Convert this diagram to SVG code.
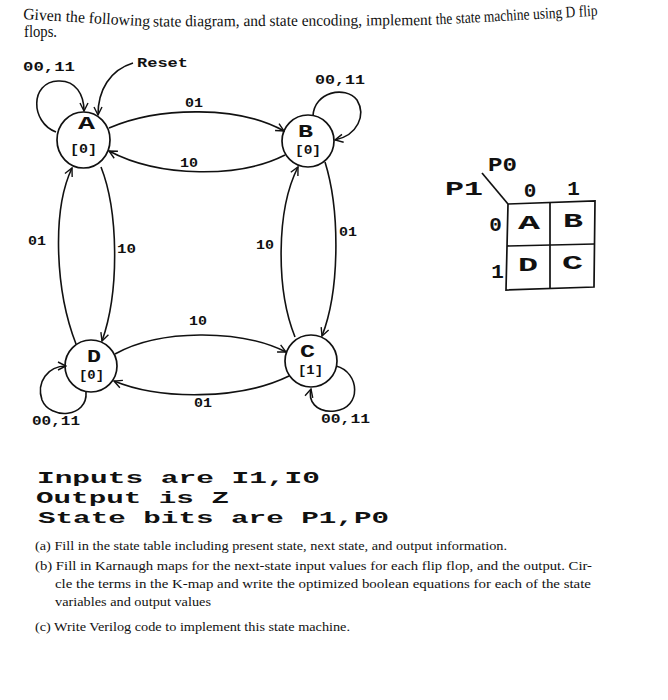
<svg xmlns="http://www.w3.org/2000/svg" width="668" height="700" viewBox="0 0 668 700">
<style>
.bg{fill:#fff}
.st{fill:none;stroke:#111;stroke-width:1.7}
.e{fill:none;stroke:#111;stroke-width:1.6}
.mono{font-family:"Liberation Mono","DejaVu Sans Mono",monospace;font-weight:bold;fill:#111}
.lbl{font-size:12px}
.node{font-size:18px}
.out{font-size:13px}
.big{font-size:17px}
.km{font-size:21px}
.serif{font-family:"Liberation Serif","Times New Roman",serif;fill:#111}
.hd{font-size:16px}
.q{font-size:13.5px}
</style>
<defs>
<marker id="ar" viewBox="0 0 10 10" refX="9" refY="5" markerWidth="10" markerHeight="10" markerUnits="userSpaceOnUse" orient="auto">
<path d="M1,1 L9,5 L1,9" fill="none" stroke="#111" stroke-width="1.4"/>
</marker>
</defs>
<rect class="bg" x="0" y="0" width="668" height="700"/>

<g id="header">
<text class="serif hd" transform="translate(23,19) rotate(3.4)" textLength="127" lengthAdjust="spacingAndGlyphs">Given the following</text>
<text class="serif hd" transform="translate(153,26.5) rotate(-0.3)" textLength="279" lengthAdjust="spacingAndGlyphs">state diagram, and state encoding, implement</text>
<text class="serif hd" transform="translate(436,24.5) rotate(-3.1)" textLength="162" lengthAdjust="spacingAndGlyphs">the state machine using D flip</text>
<text class="serif hd" x="24" y="37" textLength="33" lengthAdjust="spacingAndGlyphs">flops.</text>
</g>

<g id="connectors">
<path class="e" d="M133,63 C110,70 98,90 98,115" marker-end="url(#ar)"/>
<path class="e" d="M56,132 C30,122 30,82 58,81 C76,80 84,95 84,111" marker-end="url(#ar)"/>
<path class="e" d="M109,128 C160,106 240,106 284,131" marker-end="url(#ar)"/>
<path class="e" d="M285,155 C240,178 160,178 109,151" marker-end="url(#ar)"/>
<path class="e" d="M76,344 C55,290 52,210 72,168" marker-end="url(#ar)"/>
<path class="e" d="M101,167 C118,210 120,290 102,341" marker-end="url(#ar)"/>
<path class="e" d="M325,162 C340,210 340,290 322,336" marker-end="url(#ar)"/>
<path class="e" d="M295,337 C276,290 276,210 298,167" marker-end="url(#ar)"/>
<path class="e" d="M115,354 C160,329 240,329 286,352" marker-end="url(#ar)"/>
<path class="e" d="M289,376 C240,400 160,400 114,381" marker-end="url(#ar)"/>
<path class="e" d="M313,116 C314,92 345,85 357,100 C366,115 358,135 335,140" marker-end="url(#ar)"/>
<path class="e" d="M86,392 C88,418 50,420 42,400 C36,382 48,366 66,366" marker-end="url(#ar)"/>
<path class="e" d="M336,366 C360,372 362,408 335,411 C315,413 308,400 311,389" marker-end="url(#ar)"/>
</g>

<g id="edge-labels">
<text class="mono lbl" x="23" y="71" textLength="52" lengthAdjust="spacingAndGlyphs">00,11</text>
<text class="mono lbl" x="137" y="67" textLength="51" lengthAdjust="spacingAndGlyphs">Reset</text>
<text class="mono lbl" x="185" y="107" textLength="18" lengthAdjust="spacingAndGlyphs">01</text>
<text class="mono lbl" x="180" y="167" textLength="18" lengthAdjust="spacingAndGlyphs">10</text>
<text class="mono lbl" x="28" y="245" textLength="18" lengthAdjust="spacingAndGlyphs">01</text>
<text class="mono lbl" x="117" y="253" textLength="19" lengthAdjust="spacingAndGlyphs">10</text>
<text class="mono lbl" x="256" y="249" textLength="18" lengthAdjust="spacingAndGlyphs">10</text>
<text class="mono lbl" x="339" y="236" textLength="18" lengthAdjust="spacingAndGlyphs">01</text>
<text class="mono lbl" x="189" y="325" textLength="18" lengthAdjust="spacingAndGlyphs">10</text>
<text class="mono lbl" x="194" y="407" textLength="18" lengthAdjust="spacingAndGlyphs">01</text>
<text class="mono lbl" x="315" y="84" textLength="50" lengthAdjust="spacingAndGlyphs">00,11</text>
<text class="mono lbl" x="32" y="425" textLength="48" lengthAdjust="spacingAndGlyphs">00,11</text>
<text class="mono lbl" x="321" y="423" textLength="49" lengthAdjust="spacingAndGlyphs">00,11</text>
</g>

<g id="node-A">
<ellipse class="st" cx="83.5" cy="140" rx="26.5" ry="28"/>
<text class="mono node" x="78" y="129" textLength="17" lengthAdjust="spacingAndGlyphs">A</text>
<text class="mono out" x="70" y="153" textLength="27" lengthAdjust="spacingAndGlyphs">[0]</text>
</g>
<g id="node-B">
<circle class="st" cx="308" cy="141" r="26"/>
<text class="mono node" x="298" y="137" textLength="15" lengthAdjust="spacingAndGlyphs">B</text>
<text class="mono out" x="295" y="154" textLength="26" lengthAdjust="spacingAndGlyphs">[0]</text>
</g>
<g id="node-D">
<circle class="st" cx="91" cy="366" r="26"/>
<text class="mono node" x="87" y="362" textLength="14" lengthAdjust="spacingAndGlyphs">D</text>
<text class="mono out" x="79" y="379" textLength="25" lengthAdjust="spacingAndGlyphs">[0]</text>
</g>
<g id="node-C">
<circle class="st" cx="311" cy="361" r="26"/>
<text class="mono node" x="300" y="357" textLength="15" lengthAdjust="spacingAndGlyphs">C</text>
<text class="mono out" x="298" y="374" textLength="25" lengthAdjust="spacingAndGlyphs">[1]</text>
</g>

<g id="kmap">
<line class="st" x1="482" y1="173" x2="508" y2="204"/>
<polygon class="st" points="508,204 595,201 594,287 506,290"/>
<line class="st" x1="507" y1="246" x2="594.5" y2="244"/>
<line class="st" x1="550" y1="202.5" x2="550" y2="288.5"/>
<text class="mono km" x="488" y="171" textLength="29" lengthAdjust="spacingAndGlyphs">P0</text>
<text class="mono km" x="445" y="195" textLength="38" lengthAdjust="spacingAndGlyphs">P1</text>
<text class="mono km" x="530" y="197" text-anchor="middle">0</text>
<text class="mono km" x="573.5" y="195" text-anchor="middle">1</text>
<text class="mono km" x="495.5" y="231" text-anchor="middle">0</text>
<text class="mono km" x="497.5" y="278" text-anchor="middle">1</text>
<text class="mono km" x="518" y="229" textLength="22" lengthAdjust="spacingAndGlyphs">A</text>
<text class="mono km" x="563" y="227" textLength="20" lengthAdjust="spacingAndGlyphs">B</text>
<text class="mono km" x="518" y="271" textLength="20" lengthAdjust="spacingAndGlyphs">D</text>
<text class="mono km" x="562" y="269" textLength="21" lengthAdjust="spacingAndGlyphs">C</text>
</g>

<g id="info">
<text class="mono big" x="37" y="483" textLength="283" lengthAdjust="spacingAndGlyphs">Inputs are I1,I0</text>
<text class="mono big" x="36" y="503" textLength="193" lengthAdjust="spacingAndGlyphs">Output is Z</text>
<text class="mono big" x="38" y="523" textLength="351" lengthAdjust="spacingAndGlyphs">State bits are P1,P0</text>
</g>

<g id="questions">
<text class="serif q" x="35" y="550" textLength="472" lengthAdjust="spacingAndGlyphs">(a) Fill in the state table including present state, next state, and output information.</text>
<text class="serif q" x="35" y="570" textLength="557" lengthAdjust="spacingAndGlyphs">(b) Fill in Karnaugh maps for the next-state input values for each flip flop, and the output. Cir-</text>
<text class="serif q" x="55" y="588" textLength="536" lengthAdjust="spacingAndGlyphs">cle the terms in the K-map and write the optimized boolean equations for each of the state</text>
<text class="serif q" x="55" y="606" textLength="156" lengthAdjust="spacingAndGlyphs">variables and output values</text>
<text class="serif q" x="35" y="631" textLength="315" lengthAdjust="spacingAndGlyphs">(c) Write Verilog code to implement this state machine.</text>
</g>
</svg>
